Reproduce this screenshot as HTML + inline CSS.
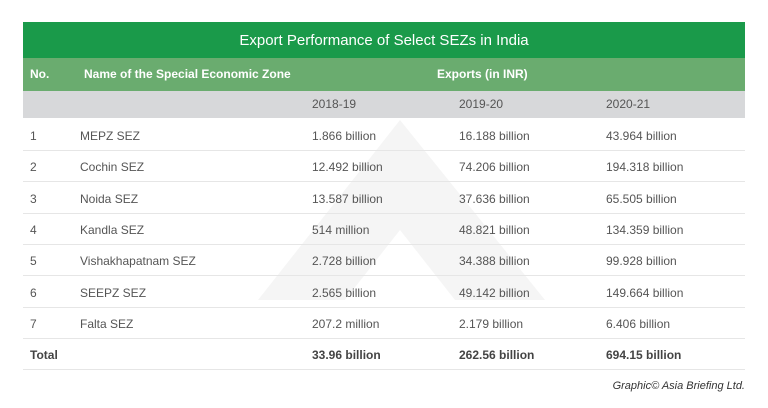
<!DOCTYPE html>
<html><head><meta charset="utf-8"><style>
body{margin:0;width:768px;height:408px;background:#fff;font-family:"Liberation Sans",sans-serif;position:relative;overflow:hidden}
.a{position:absolute;white-space:nowrap}
.title{left:23px;top:22px;width:722px;height:36px;background:#1a9a4a;color:#fff;font-size:15px;line-height:38px;text-align:center}
.hdr{left:23px;top:58px;width:722px;height:33px;background:#6aac6f}
.hdr span{position:absolute;top:0;line-height:33px;color:#fff;font-weight:bold;font-size:12px}
.yr{left:23px;top:91px;width:722px;height:27px;background:#d7d8da}
.yr span{position:absolute;line-height:27px;font-size:12px;color:#555}
.row{left:23px;width:722px;height:31px;border-bottom:1px solid #e6e6e6}
.row span{position:absolute;top:2px;line-height:31px;font-size:12px;color:#555}
.tot span{font-weight:bold;color:#444}
.foot{right:23px;top:380px;font-size:11px;font-style:italic;color:#333}
</style></head><body>
<svg class="a" style="left:0;top:0" width="768" height="408"><polygon points="400,120 545,300 455,300 400,230 345,300 258,300" fill="#f5f5f5"/></svg>
<div class="a title">Export Performance of Select SEZs in India</div>
<div class="a hdr"><span style="left:7px">No.</span><span style="left:61px">Name of the Special Economic Zone</span><span style="left:414px">Exports (in INR)</span></div>
<div class="a yr"><span style="left:289px">2018-19</span><span style="left:436px">2019-20</span><span style="left:583px">2020-21</span></div>
<div id="rows"></div>
<div class="a foot">Graphic© Asia Briefing Ltd.</div>
<script>
const nums=["1","2","3","4","5","6","7","Total"];
const names=["MEPZ SEZ","Cochin SEZ","Noida SEZ","Kandla SEZ","Vishakhapatnam SEZ","SEEPZ SEZ","Falta SEZ",""];
const y1=["1.866 billion","12.492 billion","13.587 billion","514 million","2.728 billion","2.565 billion","207.2 million","33.96 billion"];
const y2=["16.188 billion","74.206 billion","37.636 billion","48.821 billion","34.388 billion","49.142 billion","2.179 billion","262.56 billion"];
const y3=["43.964 billion","194.318 billion","65.505 billion","134.359 billion","99.928 billion","149.664 billion","6.406 billion","694.15 billion"];
const c=document.getElementById('rows');
for(let i=0;i<nums.length;i++){
 const r=document.createElement('div');
 r.className='a row'+(i==7?' tot':'');
 r.style.top=(119+i*31.3)+'px';
 
 
 const cells=[[nums[i],7],[names[i],57],[y1[i],289],[y2[i],436],[y3[i],583]];
 for(const [t,x] of cells){const s=document.createElement('span');s.textContent=t;s.style.left=x+'px';
 
 
 r.appendChild(s);}
 c.appendChild(r);
}
</script>
</body></html>
